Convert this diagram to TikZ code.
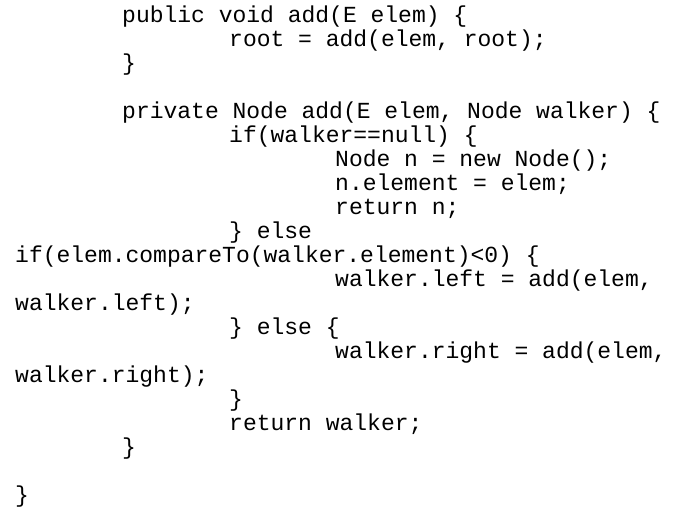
\documentclass[tikz,border=0pt]{standalone}
\usepackage{fontspec}
\setmonofont{Liberation Mono}
\begin{document}
\begin{tikzpicture}[x=1pt,y=-1pt,code/.style={anchor=base west,inner sep=0pt,font=\ttfamily\fontsize{23}{24}\selectfont}]
\useasboundingbox[fill=white] (0,0) rectangle (700,506);
\node[code] (l1) at (122,22) {public void add(E elem) \{};
\node[code] (l2) at (229,46) {root = add(elem, root);};
\node[code] (l3) at (122,70) {\}};
\node[code] (l4) at (122,118) {private Node add(E elem, Node walker) \{};
\node[code] (l5) at (229,142) {if(walker==null) \{};
\node[code] (l6) at (335,166) {Node n = new Node();};
\node[code] (l7) at (335,190) {n.element = elem;};
\node[code] (l8) at (335,214) {return n;};
\node[code] (l9) at (229,238) {\} else};
\node[code] (l10) at (15,262) {if(elem.compareTo(walker.element)<0) \{};
\node[code] (l11) at (335,286) {walker.left = add(elem,};
\node[code] (l12) at (15,310) {walker.left);};
\node[code] (l13) at (229,334) {\} else \{};
\node[code] (l14) at (335,358) {walker.right = add(elem,};
\node[code] (l15) at (15,382) {walker.right);};
\node[code] (l16) at (229,406) {\}};
\node[code] (l17) at (229,430) {return walker;};
\node[code] (l18) at (122,454) {\}};
\node[code] (l19) at (15,502) {\}};
\end{tikzpicture}
\end{document}
